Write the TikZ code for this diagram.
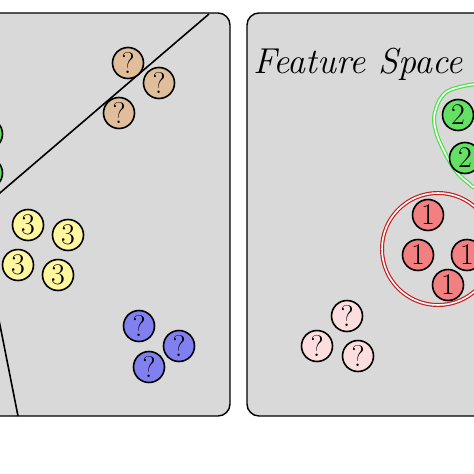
\documentclass[tikz,border=0pt]{standalone}
\usepackage{tikz}
\definecolor{panelgray}{RGB}{217,217,217}
\definecolor{tanfill}{RGB}{224,190,155}
\definecolor{yelfill}{RGB}{255,246,160}
\definecolor{bluefill}{RGB}{128,128,240}
\definecolor{greenfill}{RGB}{100,224,100}
\definecolor{redfill}{RGB}{242,128,128}
\definecolor{pinkfill}{RGB}{253,222,222}
\definecolor{greenline}{RGB}{70,225,70}
\definecolor{redline}{RGB}{200,30,30}
\tikzset{
  panel/.style={draw=black, line width=1.4pt, fill=panelgray, rounded corners=12pt},
  ball/.style={circle, draw=black, line width=1.6pt, minimum size=31pt, inner sep=0pt,
    font=\fontsize{30}{30}\selectfont},
  tanball/.style={ball, fill=tanfill},
  yelball/.style={ball, fill=yelfill},
  blueball/.style={ball, fill=bluefill},
  greenball/.style={ball, fill=greenfill},
  redball/.style={ball, fill=redfill},
  pinkball/.style={ball, fill=pinkfill},
  sepline/.style={draw=black, line width=1.6pt},
  grouploop/.style={line width=1.2pt, double=white, double distance=1.6pt},
}
\begin{document}
\begin{tikzpicture}[x=1pt, y=-1pt]
\useasboundingbox (0,0) rectangle (474,474);
\clip (0,0) rectangle (474,474);
\fill[white] (0,0) rectangle (474,474);
% panels
\draw[panel] (-300,13) rectangle (230,416);
\draw[panel] (247,13) rectangle (800,416);
% left panel separating lines
\coordinate (l1a) at (209,14);
\coordinate (l1b) at (-20,210);
\draw[sepline] (l1a) -- (l1b);
\coordinate (l2a) at (-3,310);
\coordinate (l2b) at (18,416);
\draw[sepline] (l2a) -- (l2b);
% left panel balls
\node[tanball] (t1) at (128,63) {?};
\node[tanball] (t2) at (159,83) {?};
\node[tanball] (t3) at (119,113) {?};
\node[greenball] (g1) at (-13,134) {2};
\node[greenball] (g2) at (-13,173) {2};
\node[yelball] (y1) at (28,225) {3};
\node[yelball] (y2) at (68,235) {3};
\node[yelball] (y3) at (18,265) {3};
\node[yelball] (y4) at (58,275) {3};
\node[blueball] (b1) at (139,326) {?};
\node[blueball] (b2) at (179,346) {?};
\node[blueball] (b3) at (149,367) {?};
% right panel
\node[anchor=base west, inner sep=0pt, font=\fontsize{36}{36}\selectfont\itshape] (title) at (253,73) {Feature Space};
\draw[grouploop, draw=greenline] plot[smooth cycle] coordinates {(450,90) (439,101) (434,118) (437,135) (445,153) (455,170) (466,181) (480,189) (515,180) (535,130) (515,92) (480,84)};
\draw[grouploop, draw=redline] (438,249) circle (56);
\node[greenball] (r2a) at (458,115) {2};
\node[greenball] (r2b) at (465,158) {2};
\node[redball] (r1a) at (428,215) {1};
\node[redball] (r1b) at (418,255) {1};
\node[redball] (r1c) at (467,255) {1};
\node[redball] (r1d) at (448,285) {1};
\node[pinkball] (p1) at (347,316) {?};
\node[pinkball] (p2) at (317,346) {?};
\node[pinkball] (p3) at (358,356) {?};
\end{tikzpicture}
\end{document}
